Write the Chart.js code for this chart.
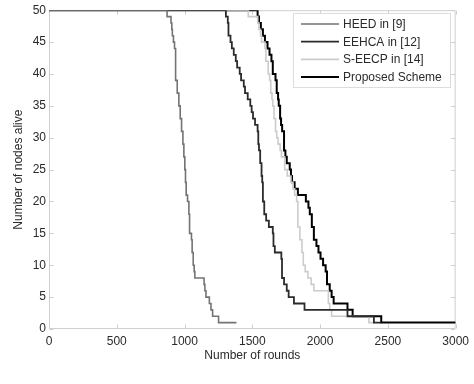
<!DOCTYPE html>
<html>
<head>
<meta charset="utf-8">
<script src="https://cdn.jsdelivr.net/npm/chart.js@4.4.0/dist/chart.umd.min.js"></script>
<style>
  body { margin: 0; background: #fff; }
  canvas { display: block; }
</style>
</head>
<body>
<canvas id="lifetimeChart" width="474" height="384"></canvas>
<script>
// tick values
const xTickValues = [0, 500, 1000, 1500, 2000, 2500, 3000]
const yTickValues = [0, 5, 10, 15, 20, 25, 30, 35, 40, 45, 50]

const seriesLabels = ['HEED in [9]', 'EEHCA in [12]', 'S-EECP in [14]', 'Proposed Scheme']

// rounds where the alive count changes, and the new count
const heedRounds = [0, 871, 900, 906, 910, 918, 926, 934, 946, 958, 968, 978, 988, 995, 1002, 1007, 1012, 1022, 1032, 1037, 1051, 1056, 1064, 1071, 1076, 1144, 1150, 1158, 1183, 1195, 1207, 1251, 1383]
const heedAlive = [50, 49, 48, 47, 46, 45, 44, 39, 37, 35, 33, 31, 29, 27, 25, 23, 21, 20, 18, 15, 14, 12, 10, 9, 8, 7, 6, 5, 4, 3, 2, 1, 1]

const eehcaRounds = [0, 1305, 1319, 1324, 1339, 1349, 1363, 1378, 1388, 1407, 1417, 1437, 1446, 1466, 1485, 1495, 1505, 1520, 1539, 1544, 1549, 1558, 1568, 1573, 1578, 1588, 1602, 1622, 1651, 1656, 1666, 1714, 1719, 1734, 1754, 1768, 1788, 1807, 1885, 2202, 2397, 2451]
const eehcaAlive = [50, 49, 48, 46, 45, 44, 43, 42, 41, 40, 39, 38, 37, 36, 35, 34, 33, 32, 31, 29, 28, 26, 24, 23, 20, 18, 17, 16, 15, 13, 12, 11, 8, 7, 6, 5, 5, 4, 3, 2, 1, 1]

const seecpRounds = [0, 1470, 1540, 1549, 1560, 1568, 1593, 1600, 1617, 1628, 1636, 1645, 1651, 1660, 1671, 1680, 1690, 1705, 1715, 1739, 1758, 1785, 1800, 1812, 1827, 1836, 1851, 1866, 1876, 1890, 1910, 1934, 1954, 2061, 2071, 2085, 2360, 2400]
const seecpAlive = [50, 49, 48, 47, 46, 45, 44, 42, 40, 39, 37, 36, 35, 33, 31, 30, 29, 28, 27, 25, 24, 23, 22, 21, 20, 16, 14, 12, 10, 9, 8, 7, 6, 4, 3, 2, 1, 1]

const proposedRounds = [0, 1539, 1549, 1563, 1578, 1593, 1612, 1627, 1641, 1651, 1671, 1680, 1690, 1695, 1705, 1712, 1720, 1734, 1744, 1754, 1776, 1785, 1793, 1812, 1836, 1895, 1914, 1924, 1939, 1954, 1973, 1988, 2003, 2022, 2041, 2051, 2071, 2085, 2100, 2202, 2240, 2451, 3000]
const proposedAlive = [50, 49, 48, 47, 46, 45, 44, 43, 42, 40, 39, 37, 36, 35, 33, 32, 31, 28, 27, 26, 25, 24, 23, 22, 21, 20, 19, 18, 16, 14, 13, 12, 11, 10, 9, 7, 6, 5, 4, 3, 2, 1, 1]

const colors = ['#737373', '#2b2b2b', '#cccccc', '#000000']
const widths = [1.6, 1.8, 1.6, 2]
const fontFamily = '"Liberation Sans", Arial, Helvetica, sans-serif'
const textColor = '#2a2a2a'
const frameColor = '#cfcfcf'

function toPoints(rounds, alive) {
    return rounds.map((r, i) => ({ x: r, y: alive[i] }))
}

const allSeries = [
    toPoints(heedRounds, heedAlive),
    toPoints(eehcaRounds, eehcaAlive),
    toPoints(seecpRounds, seecpAlive),
    toPoints(proposedRounds, proposedAlive)
]

// box round the plot with small ticks pointing inwards
const frameTicks = {
    id: 'frameTicks',
    beforeDatasetsDraw(chart) {
        const { ctx, chartArea: a, scales: { x, y } } = chart
        const L = a.left + 0.5, R = a.right - 0.5, T = a.top + 0.5, B = a.bottom - 0.5
        ctx.save()
        ctx.strokeStyle = frameColor
        ctx.lineWidth = 1
        ctx.beginPath()
        ctx.rect(L, T, R - L, B - T)
        x.ticks.forEach((t) => {
            const px = Math.round(x.getPixelForValue(t.value)) + 0.5
            ctx.moveTo(px, B); ctx.lineTo(px, B - 4)
            ctx.moveTo(px, T); ctx.lineTo(px, T + 4)
        })
        y.ticks.forEach((t) => {
            const py = Math.round(y.getPixelForValue(t.value)) + 0.5
            ctx.moveTo(L, py); ctx.lineTo(L + 4, py)
            ctx.moveTo(R, py); ctx.lineTo(R - 4, py)
        })
        ctx.stroke()
        ctx.restore()
    }
}

// legend box inside the plot, top right
const boxLegend = {
    id: 'boxLegend',
    afterDraw(chart) {
        const { ctx } = chart
        const left = 293, top = 13, w = 157, h = 74
        ctx.save()
        ctx.fillStyle = '#fff'
        ctx.fillRect(left, top, w, h)
        ctx.strokeStyle = '#dddddd'
        ctx.lineWidth = 1
        ctx.strokeRect(left + 0.5, top + 0.5, w, h)
        ctx.font = '12px ' + fontFamily
        ctx.textBaseline = 'middle'
        ctx.fillStyle = textColor
        chart.data.datasets.forEach((ds, i) => {
            const yy = 24 + i * 17.7
            ctx.strokeStyle = ds.borderColor
            ctx.lineWidth = ds.borderWidth
            ctx.beginPath()
            ctx.moveTo(301, yy)
            ctx.lineTo(339, yy)
            ctx.stroke()
            ctx.fillText(ds.label, 343, yy + 0.5)
        })
        ctx.restore()
    }
}

new Chart(document.getElementById('lifetimeChart'), {
    type: 'line',
    data: {
        datasets: allSeries.map((pts, i) => ({
            label: seriesLabels[i],
            data: pts,
            borderColor: colors[i],
            borderWidth: widths[i],
            stepped: true,
            pointRadius: 0,
            fill: false
        }))
    },
    options: {
        responsive: false,
        animation: false,
        devicePixelRatio: 1,
        layout: { padding: { left: 0, top: 7, right: 15, bottom: 0 } },
        plugins: {
            legend: { display: false },
            tooltip: { enabled: false }
        },
        scales: {
            x: {
                type: 'linear',
                min: 0,
                max: 3000,
                afterBuildTicks: (s) => { s.ticks = xTickValues.map((v) => ({ value: v })) },
                afterFit: (s) => { s.height = 55 },
                grid: { drawOnChartArea: false, drawTicks: false },
                border: { display: false },
                ticks: {
                    color: textColor,
                    font: { family: fontFamily, size: 12 },
                    padding: 5,
                    maxRotation: 0,
                    callback: (v) => String(v)
                },
                title: {
                    display: true,
                    text: 'Number of rounds',
                    color: textColor,
                    font: { family: fontFamily, size: 12 },
                    padding: { top: 21, bottom: 21 }
                }
            },
            y: {
                min: 0,
                max: 50,
                afterBuildTicks: (s) => { s.ticks = yTickValues.map((v) => ({ value: v })) },
                afterFit: (s) => { s.width = 49 },
                grid: { drawOnChartArea: false, drawTicks: false },
                border: { display: false },
                ticks: {
                    color: textColor,
                    font: { family: fontFamily, size: 12 },
                    padding: 3,
                    callback: (v) => String(v)
                },
                title: {
                    display: true,
                    text: 'Number of nodes alive',
                    color: textColor,
                    font: { family: fontFamily, size: 12 },
                    padding: { top: 11, bottom: 11 }
                }
            }
        }
    },
    plugins: [frameTicks, boxLegend]
})
</script>
</body>
</html>
